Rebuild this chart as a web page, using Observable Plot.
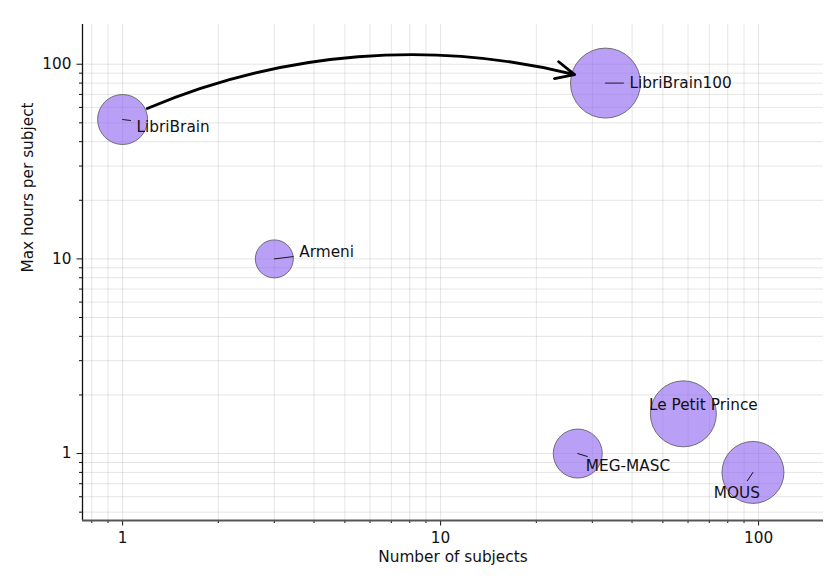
<!DOCTYPE html>
<html><head><meta charset="utf-8">
<script src="https://cdn.jsdelivr.net/npm/d3@7"></script>
<script src="https://cdn.jsdelivr.net/npm/@observablehq/plot@0.6"></script>
<style>
html,body{margin:0;padding:0;background:#fff;}
</style></head><body><div id="chart"></div>
<script>
// ---- data ----
const datasets   = ["LibriBrain", "LibriBrain100", "Armeni", "MEG-MASC", "Le Petit Prince", "MOUS"];
const subjects   = [1, 33, 3, 27, 58, 96];
const maxHours   = [52, 80, 10, 1, 1.6, 0.8];
const markerArea = [625, 1225, 361, 600, 1089, 961];   // relative bubble area
const arrowFrom  = "LibriBrain";
const arrowTo    = "LibriBrain100";
const xTickValues = [1, 10, 100];
const yTickValues = [1, 10, 100];
const xMinorTicks = [0.8, 0.9, 2, 3, 4, 5, 6, 7, 8, 9, 20, 30, 40, 50, 60, 70, 80, 90];
const yMinorTicks = [0.5, 0.6, 0.7, 0.8, 0.9, 2, 3, 4, 5, 6, 7, 8, 9, 20, 30, 40, 50, 60, 70, 80, 90];
const xLabel = "Number of subjects";
const yLabel = "Max hours per subject";

const data = datasets.map((name, i) => ({name, subjects: subjects[i], hours: maxHours[i], area: markerArea[i]}));
const links = [{from: data.find(d => d.name === arrowFrom), to: data.find(d => d.name === arrowTo)}];

// label placement (pixel offsets from bubble centre) and leader lines
const labelLayout = {
  "LibriBrain":      {dx: 14,  dy: 8,   anchor: "start",  lead: [8, 97]},
  "LibriBrain100":   {dx: 24,  dy: 0,   anchor: "start",  lead: [18, 90]},
  "Armeni":          {dx: 25,  dy: -7,  anchor: "start",  lead: [19, 83]},
  "MEG-MASC":        {dx: 8,   dy: 13,  anchor: "start",  lead: [10, 107]},
  "Le Petit Prince": {dx: 20,  dy: -9,  anchor: "middle", lead: null},
  "MOUS":            {dx: -16, dy: 21,  anchor: "middle", lead: [10, 214]}
};

const xDomain = [0.748, 160];
const yDomain = [0.453, 160];

const leaderMarks = data.filter(d => labelLayout[d.name].lead).map(d => {
  const [len, rot] = labelLayout[d.name].lead;
  return Plot.vector([d], {
    x: "subjects", y: "hours", anchor: "start", length: len, rotate: rot,
    stroke: "#111", strokeWidth: 0.9,
    shape: {draw(ctx, l) { ctx.moveTo(0, 0); ctx.lineTo(0, -l); }}
  });
});

const labelMarks = data.map(d => {
  const L = labelLayout[d.name];
  return Plot.text([d], {
    x: "subjects", y: "hours", text: "name", dx: L.dx, dy: L.dy,
    textAnchor: L.anchor, fill: "#111", fontSize: 15.3, ariaLabel: "dataset label"
  });
});

const plot = Plot.plot({
  width: 840, height: 576,
  marginLeft: 82, marginRight: 17, marginTop: 24, marginBottom: 56,
  style: {fontFamily: "'DejaVu Sans', sans-serif", fontSize: "15.3px", background: "white", color: "#111"},
  x: {type: "log", domain: xDomain, label: null},
  y: {type: "log", domain: yDomain, label: null},
  r: {type: "sqrt", domain: [0, 1225], range: [0, 35]},
  marks: [
    Plot.gridX(xTickValues.concat(xMinorTicks), {stroke: "#000", strokeOpacity: 0.1}),
    Plot.gridY(yTickValues.concat(yMinorTicks), {stroke: "#000", strokeOpacity: 0.1}),
    Plot.dot(data, {x: "subjects", y: "hours", r: "area", fill: "#9064f2", fillOpacity: 0.62,
      stroke: "#555", strokeOpacity: 0.8, strokeWidth: 1}),
    Plot.arrow(links, {
      x1: d => d.from.subjects, y1: d => d.from.hours,
      x2: d => d.to.subjects, y2: d => d.to.hours,
      bend: 21, insetStart: 27, insetEnd: 32,
      stroke: "black", strokeWidth: 2.8, headLength: 11, headAngle: 50
    }),
    ...leaderMarks,
    ...labelMarks,
    Plot.axisX(xTickValues, {tickSize: 5.5, tickPadding: 6.5, tickFormat: d => String(d), fontSize: 15.3, stroke: "#111"}),
    Plot.axisX(xMinorTicks, {tickSize: 3, tickFormat: () => "", stroke: "#111"}),
    Plot.axisY(yTickValues, {tickSize: 5.5, tickPadding: 5.5, tickFormat: d => String(d), fontSize: 15.3, stroke: "#111"}),
    Plot.axisY(yMinorTicks, {tickSize: 3, tickFormat: () => "", stroke: "#111"}),
    Plot.ruleX([xDomain[0]], {stroke: "#111", strokeWidth: 1.3}),
    Plot.ruleY([yDomain[0]], {stroke: "#555", strokeWidth: 2}),
    Plot.text([xLabel], {frameAnchor: "bottom", dy: 41, text: d => d, fontSize: 15.3, fill: "#111"}),
    Plot.text([yLabel], {frameAnchor: "left", dx: -54, rotate: -90, text: d => d, fontSize: 15.3, fill: "#111"})
  ]
});

document.getElementById("chart").appendChild(plot);

// semi-transparent white boxes behind dataset labels
document.querySelectorAll('g[aria-label="dataset label"] text').forEach(t => {
  const b = t.getBBox();
  const padX = 3, padY = 1.5;
  const rect = document.createElementNS("http://www.w3.org/2000/svg", "rect");
  rect.setAttribute("x", b.x - padX);
  rect.setAttribute("y", b.y - padY);
  rect.setAttribute("width", b.width + 2 * padX);
  rect.setAttribute("height", b.height + 2 * padY);
  rect.setAttribute("rx", 3);
  rect.setAttribute("fill", "white");
  rect.setAttribute("fill-opacity", 0.82);
  rect.setAttribute("stroke", "none");
  if (t.getAttribute("transform")) rect.setAttribute("transform", t.getAttribute("transform"));
  t.parentNode.insertBefore(rect, t);
});
</script>
</body></html>
